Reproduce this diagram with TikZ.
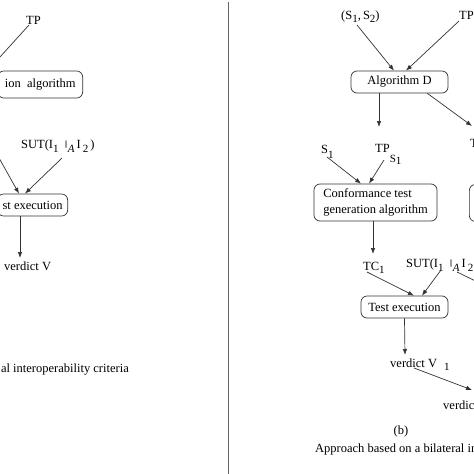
\documentclass[tikz,border=0pt]{standalone}
\usepackage{fontspec}
\setmainfont{Liberation Serif}
\usetikzlibrary{shapes,arrows.meta,positioning,calc}

% lowered index, as in the scanned figure
\newcommand{\lo}[2][-4pt]{\raisebox{#1}{\fontsize{11}{11}\selectfont #2}}
\newcommand{\parop}{\raisebox{1.5pt}{\fontsize{8}{8}\selectfont ||}}

\begin{document}
\begin{tikzpicture}[x=1pt,y=-1pt,
    font=\fontsize{12.5}{15.5}\selectfont,
    box/.style={draw=linegray, rounded corners=6pt, line width=0.7pt, inner xsep=7pt, inner ysep=2pt},
    lbl/.style={inner sep=1pt},
    link/.style={draw=linegray, line width=0.7pt},
    arr/.style={link, -{Latex[length=6pt,width=4.5pt]}}]
        % Define the line colours
        \definecolor{linegray}{RGB}{50,50,50}
        \definecolor{sepgray}{RGB}{100,100,100}

        \useasboundingbox (0,0) rectangle (474,474);
        \clip (0,0) rectangle (474,474);

        % ---- left part (a) ----
        \node[lbl, anchor=base west] (tpA) at (25,24) {TP};
        \node[box, anchor=east, minimum height=27pt] (genA) at (83,84.5) {ion~ algorithm};
        \node[lbl, anchor=base west] (sutA) at (20,148) {SUT(I\lo{1}\hspace{6pt}\parop\lo{\textit{A}}\,I\,\lo{2}\hspace{2pt})};
        \node[box, anchor=east, minimum height=22pt, inner xsep=5pt] (execA) at (68,205) {st execution};
        \node[lbl, anchor=base west] (verdA) at (3,270) {verdict V};
        \node[lbl, anchor=base east] (capA) at (130,372) {al interoperability criteria};

        \coordinate (inA) at (-10,68);
        \coordinate (inB) at (-6,149);

        \draw[link] ($(tpA.base west)+(4,1)$) -- (inA);
        \draw[arr] ($(sutA.base west)+(42,10)$) -- ($(execA.north east)+(-43,0)$);
        \draw[arr] (inB) -- ($(execA.north east)+(-49,0)$);
        \draw[arr] ($(execA.south east)+(-48,0)$) -- ($(verdA.base west)+(17,-12)$);

        % separator
        \coordinate (sepTop) at (228,2);
        \coordinate (sepBot) at (228,474);
        \draw[sepgray, line width=0.9pt] (sepTop) -- (sepBot);

        % ---- right part (b) ----
        \node[lbl, anchor=base west] (s12) at (340,19) {(S\lo[-3pt]{1},\,S\lo[-3pt]{2})};
        \node[lbl, anchor=base west] (tpB) at (458,19) {TP};
        \node[box, minimum width=97pt, minimum height=22pt] (algD) at (399.5,82) {Algorithm D};

        \node[lbl, anchor=base west] (s1) at (320,153) {S\lo[-5pt]{1}};
        \node[lbl, anchor=base west] (tps1) at (374,152) {TP\lo[-10pt]{S\lo[-2pt]{1}}};
        \node[lbl, anchor=base west] (tps2) at (469,147) {TP\lo[-10pt]{S\lo[-2pt]{2}}};

        \node[box, align=left, minimum width=123pt, minimum height=37pt] (confB) at (375.5,202.5) {Conformance test\\generation algorithm};
        \node[box, align=left, minimum width=123pt, minimum height=37pt, anchor=west] (confC) at (469,203) {Conformance test\\generation algorithm};

        \node[lbl, anchor=base west] (tc1) at (362,270) {TC\lo[-3pt]{1}};
        \node[lbl, anchor=base west] (sutB) at (405,267) {SUT(I\lo{1}\hspace{6pt}\parop\lo{\textit{A}}\,I\,\lo{2}\hspace{2pt})};
        \node[box, minimum width=87pt, minimum height=22pt] (execB) at (404.5,307) {Test execution};

        \node[lbl, anchor=base west] (verdB1) at (389,367) {verdict V\hspace{7pt}\lo[-3pt]{1}};
        \node[lbl, anchor=base west] (verdB) at (442,409) {verdict V};

        \node[lbl, anchor=base] (capB1) at (401,434) {(b)};
        \node[lbl, anchor=base west] (capB2) at (314,452) {Approach based on a bilateral interoperability criterion};

        \coordinate (outC) at (500,293);

        \draw[arr] ($(s12.base west)+(17,6)$) -- ($(algD.north)+(-5.5,0)$);
        \draw[arr] ($(tpB.base west)+(1,2)$) -- ($(algD.north)+(6.5,0)$);
        \draw[arr] ($(algD.south)+(-20.5,0)$) -- ($(tps1.base west)+(5,-25)$);
        \draw[arr] ($(algD.south east)+(-21,0)$) -- ($(tps2.base west)+(3,-21)$);
        \draw[arr] ($(s1.base west)+(7,4)$) -- ($(confB.north)+(-14.5,0)$);
        \draw[arr] ($(tps1.base west)+(10,8)$) -- ($(confB.north)+(-6.5,0)$);
        \draw[arr] ($(confB.south)+(-2.5,0)$) -- ($(tc1.base west)+(11,-16)$);
        \draw[arr] ($(tc1.base west)+(5,2)$) -- ($(execB.north)+(9.5,0)$);
        \draw[arr] ($(sutB.base west)+(36,3)$) -- ($(execB.north)+(17.5,0)$);
        \draw[link] ($(sutB.base west)+(52,5)$) -- (outC);
        \draw[arr] (execB.south) -- ($(verdB1.base west)+(16,-12)$);
        \draw[arr] ($(verdB1.base west)+(25,1)$) -- ($(verdB.base west)+(30,-19)$);
    \end{tikzpicture}
\end{document}
